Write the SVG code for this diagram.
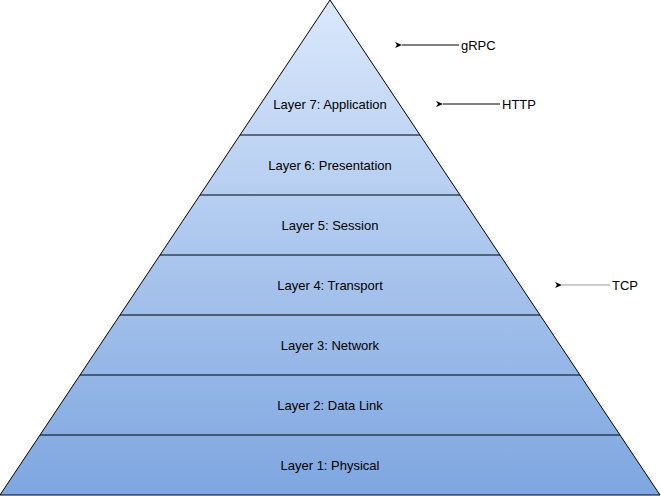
<svg xmlns="http://www.w3.org/2000/svg" width="661" height="496" viewBox="0 0 661 496">
<style>
text{font-family:"Liberation Sans",Arial,sans-serif;font-size:13px;fill:#000}
.lbl{text-anchor:middle}
.div{stroke:#000;stroke-width:1}
.c{stroke:#000;stroke-width:1;fill:none}
</style>
<defs>
<linearGradient id="g" x1="0" y1="0" x2="0" y2="1">
<stop offset="0" stop-color="#dae8fc"/>
<stop offset="1" stop-color="#7ea6e0"/>
</linearGradient>
<marker id="a" markerWidth="8" markerHeight="8" refX="1" refY="4" orient="auto-start-reverse" markerUnits="userSpaceOnUse">
<path d="M8,1 L1,4 L8,7 L6,4 Z" fill="context-stroke" stroke="none"/>
</marker>
<marker id="ab" markerWidth="8" markerHeight="8" refX="1" refY="4" orient="auto" markerUnits="userSpaceOnUse">
<path d="M8,1 L1,4 L8,7 L6,4 Z" fill="#000"/>
</marker>
</defs>
<g id="pyramid">
<polygon points="330,0 660,495 0,495" fill="url(#g)" stroke="#000"/>
<line class="div" x1="240" y1="135" x2="420" y2="135"/>
<line class="div" x1="200" y1="195" x2="460" y2="195"/>
<line class="div" x1="160" y1="255" x2="500" y2="255"/>
<line class="div" x1="120" y1="315" x2="540" y2="315"/>
<line class="div" x1="80" y1="375" x2="580" y2="375"/>
<line class="div" x1="40" y1="435" x2="620" y2="435"/>
</g>
<g id="layer7"><text class="lbl" x="330" y="109">Layer 7: Application</text></g>
<g id="layer6"><text class="lbl" x="330" y="170">Layer 6: Presentation</text></g>
<g id="layer5"><text class="lbl" x="330" y="230">Layer 5: Session</text></g>
<g id="layer4"><text class="lbl" x="330" y="290">Layer 4: Transport</text></g>
<g id="layer3"><text class="lbl" x="330" y="350">Layer 3: Network</text></g>
<g id="layer2"><text class="lbl" x="330" y="410">Layer 2: Data Link</text></g>
<g id="layer1"><text class="lbl" x="330" y="470">Layer 1: Physical</text></g>
<g id="grpc"><text x="461" y="50">gRPC</text></g>
<g id="http"><text x="502" y="109">HTTP</text></g>
<g id="tcp"><text x="612" y="290">TCP</text></g>
<g id="connectors">
<line class="c" x1="459" y1="45" x2="402" y2="45" marker-end="url(#ab)"/>
<line class="c" x1="500" y1="104" x2="443" y2="104" marker-end="url(#ab)"/>
<line class="c" x1="610" y1="285" x2="562" y2="285" stroke="#999" style="stroke:#999" marker-end="url(#ab)"/>
</g>
</svg>
